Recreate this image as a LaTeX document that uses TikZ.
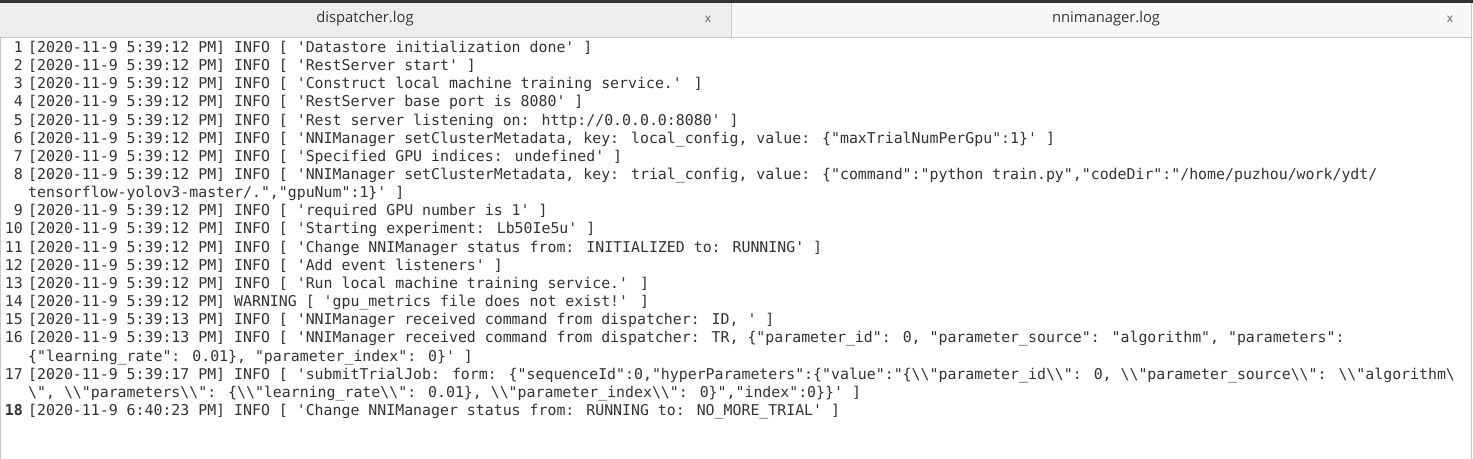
\documentclass[tikz,border=0pt]{standalone}
\usepackage{fontspec}
\newfontfamily\mono{DejaVu Sans Mono}
\newfontfamily\uisans{Open Sans}
\def\bs{\textbackslash}
\definecolor{txt}{HTML}{333333}
\definecolor{tabin}{HTML}{EDEDED}
\definecolor{tabact}{HTML}{F8F8F8}
\definecolor{bord}{HTML}{C8C8C8}
\tikzset{
  logline/.style={anchor=base west,inner sep=0pt,font=\mono\fontsize{14.93}{16}\selectfont,text=txt},
  lnum/.style={anchor=base east,inner sep=0pt,font=\mono\fontsize{14.93}{16}\selectfont,text=txt},
  tabtitle/.style={inner sep=0pt,font=\uisans\fontsize{14.8}{16}\selectfont,text=txt},
  closex/.style={inner sep=0pt,font=\uisans\fontsize{12}{13}\selectfont,text=txt!80}
}
\begin{document}
\begin{tikzpicture}[x=1bp,y=-1bp]
\useasboundingbox (0,0) rectangle (1473,459);
\fill[white] (0,0) rectangle (1473,459);
% tab bar
\fill[tabin] (0,0) rectangle (731,37);
\fill[tabact] (731,0) rectangle (1471,37);
\fill[black!80] (0,0) rectangle (1473,3);
\draw[bord] (731,3) -- (731,37);
\draw[bord] (1471,3) -- (1471,459);
\draw[bord] (0,37.5) -- (1471,37.5);
\draw[bord] (0.5,37) -- (0.5,459);
\node[tabtitle] (t1) at (365,19) {dispatcher.log};
\node[closex] (c1) at (708,19) {x};
\node[tabtitle] (t2) at (1106,19) {nnimanager.log};
\node[closex] (c2) at (1450,19) {x};
% log lines
\def\L#1#2#3{\node[lnum] (n#1) at (23,{52.5+18.15*#2}) {#1};\node[logline] (l#1) at (28,{52.5+18.15*#2}) {#3};}
\def\C#1#2#3{\node[logline] (w#1) at (28,{52.5+18.15*#2}) {#3};}
\L{1}{0}{[2020-11-9 5:39:12 PM] INFO [ 'Datastore initialization done' ]}
\L{2}{1}{[2020-11-9 5:39:12 PM] INFO [ 'RestServer start' ]}
\L{3}{2}{[2020-11-9 5:39:12 PM] INFO [ 'Construct local machine training service.' ]}
\L{4}{3}{[2020-11-9 5:39:12 PM] INFO [ 'RestServer base port is 8080' ]}
\L{5}{4}{[2020-11-9 5:39:12 PM] INFO [ 'Rest server listening on: http://0.0.0.0:8080' ]}
\L{6}{5}{[2020-11-9 5:39:12 PM] INFO [ 'NNIManager setClusterMetadata, key: local\_config, value: \{"maxTrialNumPerGpu":1\}' ]}
\L{7}{6}{[2020-11-9 5:39:12 PM] INFO [ 'Specified GPU indices: undefined' ]}
\L{8}{7}{[2020-11-9 5:39:12 PM] INFO [ 'NNIManager setClusterMetadata, key: trial\_config, value: \{"command":"python train.py","codeDir":"/home/puzhou/work/ydt/}
\C{8}{8}{tensorflow-yolov3-master/.","gpuNum":1\}' ]}
\L{9}{9}{[2020-11-9 5:39:12 PM] INFO [ 'required GPU number is 1' ]}
\L{10}{10}{[2020-11-9 5:39:12 PM] INFO [ 'Starting experiment: Lb50Ie5u' ]}
\L{11}{11}{[2020-11-9 5:39:12 PM] INFO [ 'Change NNIManager status from: INITIALIZED to: RUNNING' ]}
\L{12}{12}{[2020-11-9 5:39:12 PM] INFO [ 'Add event listeners' ]}
\L{13}{13}{[2020-11-9 5:39:12 PM] INFO [ 'Run local machine training service.' ]}
\L{14}{14}{[2020-11-9 5:39:12 PM] WARNING [ 'gpu\_metrics file does not exist!' ]}
\L{15}{15}{[2020-11-9 5:39:13 PM] INFO [ 'NNIManager received command from dispatcher: ID, ' ]}
\L{16}{16}{[2020-11-9 5:39:13 PM] INFO [ 'NNIManager received command from dispatcher: TR, \{"parameter\_id": 0, "parameter\_source": "algorithm", "parameters":}
\C{16}{17}{\{"learning\_rate": 0.01\}, "parameter\_index": 0\}' ]}
\L{17}{18}{[2020-11-9 5:39:17 PM] INFO [ 'submitTrialJob: form: \{"sequenceId":0,"hyperParameters":\{"value":"\{\bs\bs"parameter\_id\bs\bs": 0, \bs\bs"parameter\_source\bs\bs": \bs\bs"algorithm\bs}
\C{17}{19}{\bs", \bs\bs"parameters\bs\bs": \{\bs\bs"learning\_rate\bs\bs": 0.01\}, \bs\bs"parameter\_index\bs\bs": 0\}","index":0\}\}' ]}
\node[lnum,font=\mono\bfseries\fontsize{14.93}{16}\selectfont] (n18) at (23,{52.5+18.15*20}) {18};
\node[logline] (l18) at (28,{52.5+18.15*20}) {[2020-11-9 6:40:23 PM] INFO [ 'Change NNIManager status from: RUNNING to: NO\_MORE\_TRIAL' ]};
\end{tikzpicture}
\end{document}
